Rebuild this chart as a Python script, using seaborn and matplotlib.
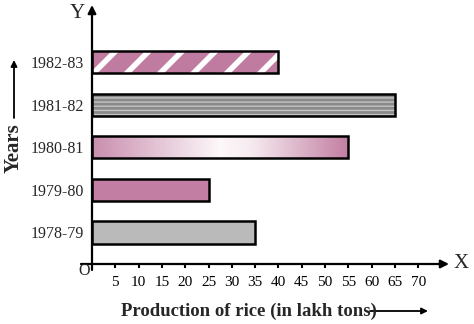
import matplotlib
matplotlib.use("Agg")
import matplotlib.pyplot as plt
from matplotlib.patches import Rectangle
from matplotlib.colors import LinearSegmentedColormap
from matplotlib.text import Annotation
import numpy as np
import pandas as pd
import seaborn as sns

# data
years = ["1978-79", "1979-80", "1980-81", "1981-82", "1982-83"]
production = [35, 25, 55, 65, 40]
x_ticks = [5, 10, 15, 20, 25, 30, 35, 40, 45, 50, 55, 60, 65, 70]

order = years[::-1]  # top to bottom
fills = {"1982-83": "#c07ca0", "1981-82": "#8a8a8a", "1980-81": "#f4e6ee",
         "1979-80": "#c27fa3", "1978-79": "#bababa"}

sns.set_style("white")
plt.rcParams["font.family"] = ["Liberation Serif", "DejaVu Serif"]

df = pd.DataFrame({"year": years, "prod": production})

W, H = 474, 324
fig = plt.figure(figsize=(W / 100, H / 100), dpi=100)
ax = fig.add_axes([92 / W, (H - 264) / H, (449 - 92) / W, (264 - 5) / H])

sns.barplot(data=df, x="prod", y="year", hue="year", order=order,
            palette=fills, saturation=1, legend=False, errorbar=None,
            width=0.52, linewidth=0, ax=ax)

# map each bar to its category by its centre on the y axis
bar_patches = [p for p in ax.patches if p.get_width() > 0]
bars = {order[int(round(p.get_y() + p.get_height() / 2))]: p for p in bar_patches}

# 1982-83: white diagonal stripes
b = bars["1982-83"]
b.set_edgecolor("white")
b.set_hatch("/")
if hasattr(b, "set_hatch_linewidth"):
    b.set_hatch_linewidth(4.0)

# 1981-82: fine horizontal stripes
b = bars["1981-82"]
b.set_edgecolor("#c4c4c4")
b.set_hatch("----")
if hasattr(b, "set_hatch_linewidth"):
    b.set_hatch_linewidth(1.0)

# 1980-81: horizontal pink-white-pink gradient
b = bars["1980-81"]
cmap = LinearSegmentedColormap.from_list(
    "pw", [(0, "#c98eae"), (0.5, "#fdf8fa"), (0.62, "#f6ebf0"), (1, "#c27ea2")])
grad = np.linspace(0, 1, 256).reshape(1, -1)
im = ax.imshow(grad, cmap=cmap, aspect="auto",
               extent=(b.get_x(), b.get_x() + b.get_width(),
                       b.get_y() + b.get_height(), b.get_y()),
               zorder=b.get_zorder() + 0.1)
im.set_clip_path(b)

# black outlines over every bar
for p in bar_patches:
    ax.add_patch(Rectangle((p.get_x(), p.get_y()), p.get_width(), p.get_height(),
                           fill=False, ec="black", lw=1.8, zorder=5))

ax.set_xlim(0, (449 - 92) / 4.66)
ax.set_ylim(4.74, -1.34)
ax.set_xticks(x_ticks)
ax.set_xticklabels([str(t) for t in x_ticks])
ax.tick_params(axis="x", direction="out", length=3, width=1.5, pad=6,
               labelsize=11, bottom=True, colors="black")
ax.tick_params(axis="y", length=0, pad=6, labelsize=11.5)
ax.set_xlabel("")
ax.set_ylabel("")
for s in ax.spines.values():
    s.set_visible(False)

# axis arrows
arr = dict(arrowstyle="-|>", color="black", lw=1.6, mutation_scale=12,
           shrinkA=0, shrinkB=0)
ax.annotate("", xy=(1, 0), xytext=(-0.031, 0), xycoords="axes fraction",
            arrowprops=arr, annotation_clip=False)
ax.annotate("", xy=(0, 1), xytext=(0, -0.023), xycoords="axes fraction",
            arrowprops=arr, annotation_clip=False)

fig.text(77 / W, 1 - 14 / H, "Y", fontsize=15, ha="center", va="center")
fig.text(461 / W, 1 - 264 / H, "X", fontsize=15, ha="center", va="center")
fig.text(84 / W, 1 - 271 / H, "O", fontsize=11.5, ha="center", va="center")

fig.text(121 / W, 1 - 311 / H, "Production of rice (in lakh tons)",
         fontsize=13.5, fontweight="bold", ha="left", va="center")
fig.text(14 / W, 1 - 148 / H, "Years", fontsize=15, fontweight="bold",
         rotation=90, ha="center", va="center")

farr = dict(arrowstyle="-|>", color="black", lw=1.3, mutation_scale=9,
            shrinkA=0, shrinkB=0)
fig.add_artist(Annotation("", xy=(428 / W, 1 - 311 / H), xytext=(370 / W, 1 - 311 / H),
                          xycoords="figure fraction", arrowprops=farr))
fig.add_artist(Annotation("", xy=(14 / W, 1 - 60 / H), xytext=(14 / W, 1 - 118 / H),
                          xycoords="figure fraction", arrowprops=farr))

fig.savefig("out.png", dpi=100)
